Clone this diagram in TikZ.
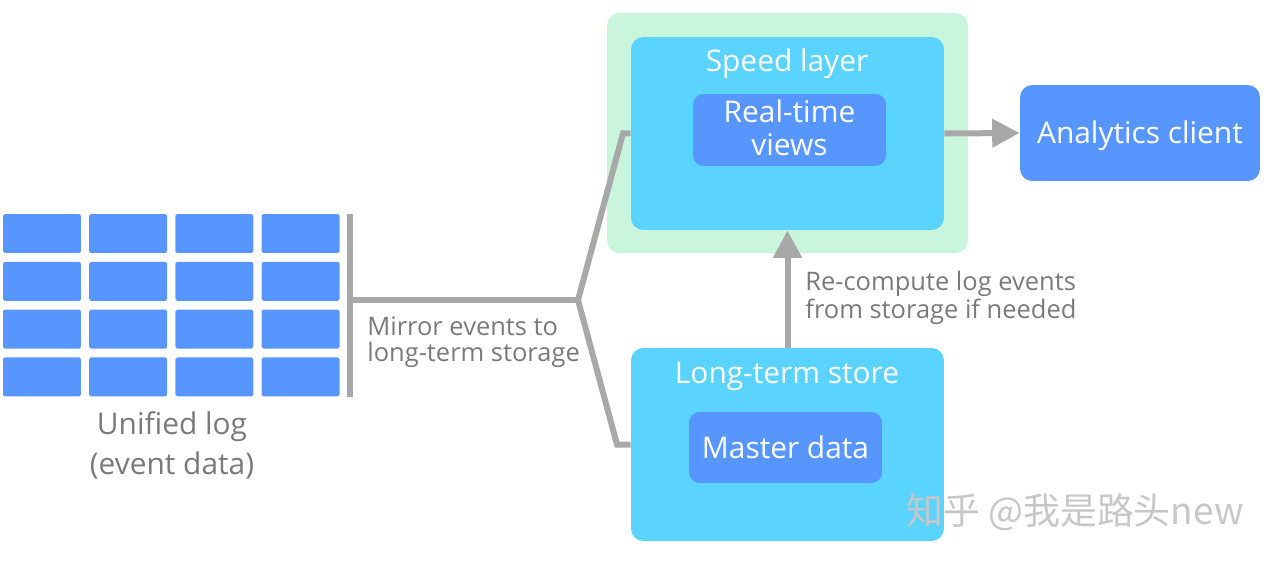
\documentclass[tikz,border=0pt]{standalone}
\usepackage{fontspec}
\setmainfont{Open Sans}
\newfontfamily\cjkfont{Noto Sans CJK SC}
\usetikzlibrary{arrows.meta, positioning}
\usepackage{xcolor}
\definecolor{cellblue}{HTML}{5896FF}
\definecolor{layerblue}{HTML}{5AD3FF}
\definecolor{speedgreen}{HTML}{C9F5DC}
\definecolor{linegray}{HTML}{A8A8A8}
\definecolor{notegray}{HTML}{7A7A7A}

\begin{document}
\begin{tikzpicture}[
  x=0.02cm, y=-0.02cm,
  cell/.style={fill=cellblue, rounded corners=1pt, minimum width=1.56cm, minimum height=0.78cm, inner sep=0pt},
  layer/.style={fill=layerblue, rounded corners=7pt, minimum width=6.26cm, minimum height=3.86cm, inner sep=0pt},
  view/.style={fill=cellblue, rounded corners=6pt, text=white, align=center, inner sep=0pt, font=\fontsize{17}{18.5}\selectfont},
  title/.style={text=white, inner sep=0pt, font=\fontsize{17}{20}\selectfont},
  note/.style={text=notegray, align=left, inner sep=0pt, font=\fontsize{14.5}{14.5}\selectfont},
  link/.style={draw=linegray, line width=0.12cm},
  arrow/.style={link, -{Triangle[length=0.55cm, width=0.55cm]}}
]
\useasboundingbox (0,0) rectangle (1284,564);

% unified log
\foreach \r in {0,...,3}
  \foreach \c in {0,...,3}
    \node[cell] (cell\r\c) at (42+86.2*\c, 233.5+47.8*\r) {};
\node[fill=linegray, minimum width=0.12cm, minimum height=3.66cm, inner sep=0pt] (bar) at (350,305.5) {};
\node[text=notegray, align=center, inner sep=0pt, font=\fontsize{17}{22.7}\selectfont] (loglabel) at (172,445) {Unified log\\(event data)};

% speed layer
\node[fill=speedgreen, rounded corners=7pt, minimum width=7.22cm, minimum height=4.8cm] (green) at (787.5,133) {};
\node[layer] (speed) at (787.5,133.5) {};
\node[title] (speedtitle) at (787,64) {Speed layer};
\node[view, minimum width=3.86cm, minimum height=1.44cm] (views) at (789.5,130) {};
\node[view, fill=none] (viewstext) at (789.5,128) {Real-time\\views};

% long-term store
\node[layer] (store) at (787.5,444.5) {};
\node[title] (storetitle) at (787,376) {Long-term store};
\node[view, minimum width=3.86cm, minimum height=1.42cm] (master) at (785.5,447.5) {Master data};

\node[view, rounded corners=7pt, minimum width=4.8cm, minimum height=1.92cm] (client) at (1140,133) {};
\node[view, fill=none] (clienttext) at (1140,136) {Analytics client};

% connectors
\coordinate (split) at (578,300);
\coordinate (up) at (623,133.5);
\coordinate (down) at (617,444.5);
\draw[link] (bar.east |- split) -- (split);
\draw[link] (split) -- (up) -- (speed.west);
\draw[link] (split) -- (down) -- (store.west);
\draw[arrow] (speed.east) -- (client.west);
\draw[arrow] (store.north) -- (speed.south);

\node[note, anchor=west] (mirror) at (367,342) {Mirror events to\\long-term storage};
\node[note, anchor=west] (recompute) at (805,298) {Re-compute log events\\from storage if needed};

\node[text=black!22, inner sep=0pt, font=\cjkfont\fontsize{21}{22}\selectfont] (mark) at (1075,512) {知乎\ @我是路头new};
\end{tikzpicture}
\end{document}
